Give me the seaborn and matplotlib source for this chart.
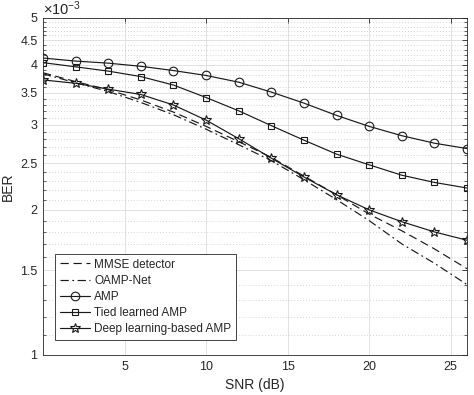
import numpy as np
import pandas as pd
import matplotlib
matplotlib.use("Agg")
import matplotlib.pyplot as plt
import matplotlib.ticker as mticker
import seaborn as sns

snr = [0, 2, 4, 6, 8, 10, 12, 14, 16, 18, 20, 22, 24, 26]
# BER values in units of 1e-3
mmse = [3.85, 3.69, 3.55, 3.38, 3.19, 2.98, 2.77, 2.57, 2.35, 2.15, 1.96, 1.81, 1.66, 1.51]
oamp = [3.83, 3.67, 3.52, 3.34, 3.15, 2.94, 2.73, 2.53, 2.31, 2.10, 1.90, 1.70, 1.55, 1.40]
amp = [4.13, 4.07, 4.03, 3.97, 3.89, 3.80, 3.68, 3.51, 3.33, 3.14, 2.98, 2.85, 2.75, 2.68]
tied = [4.04, 3.96, 3.88, 3.78, 3.63, 3.42, 3.21, 2.99, 2.79, 2.61, 2.48, 2.36, 2.28, 2.22]
dlamp = [3.72, 3.66, 3.56, 3.47, 3.30, 3.07, 2.81, 2.56, 2.34, 2.15, 2.00, 1.89, 1.80, 1.73]
labels = ["MMSE detector", "OAMP-Net", "AMP", "Tied learned AMP", "Deep learning-based AMP"]
ytick_vals = [1, 1.5, 2, 2.5, 3, 3.5, 4, 4.5, 5]
xtick_vals = [5, 10, 15, 20, 25]

sns.set_theme(style="white")
plt.rcParams["font.family"] = ["Liberation Sans", "DejaVu Sans"]
plt.rcParams["mathtext.fontset"] = "custom"
plt.rcParams["mathtext.rm"] = "Liberation Sans"
plt.rcParams["mathtext.it"] = "Liberation Sans"

fig = plt.figure(figsize=(4.74, 3.95), dpi=100)
ax = fig.add_axes([43/474, 1-355/395, (467-43)/474, (355-18)/395])

x = np.array(snr)
series = [
    (mmse, dict(linestyle=(0, (7, 4)), marker=None)),
    (oamp, dict(linestyle=(0, (7, 3, 1.5, 3)), marker=None)),
    (amp, dict(linestyle="-", marker="o", markersize=6.2)),
    (tied, dict(linestyle="-", marker="s", markersize=4.8)),
    (dlamp, dict(linestyle="-", marker="*", markersize=7.5)),
]
for (vals, kw), lab in zip(series, labels):
    y = np.array(vals) * 1e-3
    sns.lineplot(x=x, y=y, ax=ax, color="#1a1a1a", linewidth=0.85,
                 markerfacecolor="none", markeredgecolor="#1a1a1a",
                 markeredgewidth=0.8, label=lab, clip_on=True, **kw)

ax.set_yscale("log")
ax.set_xlim(0, 26)
ax.set_ylim(1e-3, 5e-3)
ax.yaxis.set_major_locator(mticker.FixedLocator([v * 1e-3 for v in ytick_vals]))
ax.yaxis.set_major_formatter(mticker.FixedFormatter([f"{v:g}" for v in ytick_vals]))
minor = [round(v, 1) * 1e-3 for v in np.arange(1.1, 5.0, 0.1)
         if not any(abs(round(v, 1) - t) < 1e-9 for t in ytick_vals)]
ax.yaxis.set_minor_locator(mticker.FixedLocator(minor))
ax.yaxis.set_minor_formatter(mticker.NullFormatter())
ax.xaxis.set_major_locator(mticker.FixedLocator(xtick_vals))
ax.xaxis.set_minor_locator(mticker.NullLocator())

ax.grid(True, which="major", color="#dcdcdc", linewidth=0.6, linestyle="-")
ax.grid(True, which="minor", axis="y", color="#c8c8c8", linewidth=0.6, linestyle=(0, (1, 2.5)))
ax.set_axisbelow(True)

ax.tick_params(axis="both", which="major", direction="in", length=3.5, width=0.6,
               top=True, right=True, labelsize=9, colors="#262626", pad=4)
ax.tick_params(axis="y", which="minor", direction="in", length=2, width=0.5,
               left=True, right=True)
for s in ax.spines.values():
    s.set_color("#262626")
    s.set_linewidth(0.6)

ax.set_xlabel("SNR (dB)", fontsize=10, color="#262626", labelpad=4)
ax.set_ylabel("BER", fontsize=10, color="#262626", labelpad=4)
ax.text(0.0, 1.0, r"$\times10^{-3}$", transform=ax.transAxes, ha="left", va="bottom",
        fontsize=10.5, color="#262626")

leg = ax.legend(loc="lower left", bbox_to_anchor=(0.028, 0.045), borderaxespad=0,
                fontsize=8.5, frameon=True, fancybox=False, edgecolor="#262626",
                framealpha=1, handlelength=2.6, handletextpad=0.35,
                labelspacing=0.35, borderpad=0.4)
leg.get_frame().set_linewidth(0.6)

fig.savefig("out.png", dpi=100)
